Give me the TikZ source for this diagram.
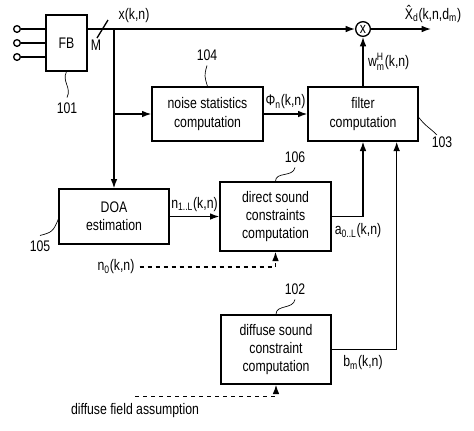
\documentclass[tikz,border=0pt]{standalone}
\usepackage{amsmath}
\usepackage{fontspec}
\setmainfont{Liberation Sans}[FakeStretch=0.8]
\usetikzlibrary{arrows.meta}

\begin{document}
\begin{tikzpicture}[x=0.75pt,y=-0.75pt,line width=1pt,>={Latex[length=7pt,width=5pt]},
   font=\fontsize{11.5}{13.75}\selectfont]
   \useasboundingbox (0,0) rectangle (474,430);
   \tikzstyle{block}=[draw, align=center, inner sep=1pt, minimum width=82.5pt, minimum height=40.5pt]
   \tikzstyle{callout}=[line width=0.5pt]
   \tikzstyle{port}=[circle, draw, fill=white, inner sep=0pt, minimum size=5pt]
   % blocks
   \node[draw, minimum width=30.75pt, minimum height=42pt] (fb) at (66.5,43) {FB};
   \node[block, minimum width=83.25pt] (noise) at (207.5,114) {noise statistics\\computation};
   \node[block] (filter) at (363,114) {filter\\computation};
   \node[block, minimum height=41.25pt] (doa) at (114,216.5) {DOA\\estimation};
   \node[block, minimum width=83.25pt, minimum height=51.75pt] (direct) at (275.5,216.5) {direct sound\\constraints\\computation};
   \node[block, minimum height=51.75pt] (diffuse) at (276,349.5) {diffuse sound\\constraint\\computation};
   \node[circle, draw, inner sep=0pt, minimum size=11pt] (mult) at (363,29) {x};
   % microphone inputs
   \foreach \i/\y in {1/29,2/43,3/57} {
       \node[port] (in\i) at (17,\y) {};
       \draw (in\i) -- (fb.west |- in\i);
   }
   % signal path
   \coordinate (split) at (114,29);
   \coordinate (out) at (431,29);
   \draw[->] (fb.east |- split) -- (split) -- (mult);
   \draw (97,38) -- (108,20);
   \node at (96,45) {M};
   \node at (134,16) {x(k,n)};
   \draw[->] (mult) -- (out);
   \node at (433,14) {\^{X}\textsubscript{d}(k,n,d\textsubscript{m})};
   \draw[->] (split) |- (noise);
   \draw[->] (split) -- (doa);
   \draw[->] (noise) -- node[above] {Φ\textsubscript{n}(k,n)} (filter);
   \draw[->] (filter) -- node[right] {$\text{w}^{\text{H}}_{\text{m}}$(k,n)} (mult);
   \draw[->] (doa) -- node[above] {n\textsubscript{1..L}(k,n)} (direct);
   \draw[->] (direct.east) -| (filter.south);
   \node at (358,231) {a\textsubscript{0..L}(k,n)};
   \draw[->] (diffuse.east) -| ([xshift=-16.5pt]filter.south east);
   \node at (363,363) {b\textsubscript{m}(k,n)};
   \node (n0) at (116,267) {n\textsubscript{0}(k,n)};
   \draw[->, dashed] (n0.east) -| (direct.south);
   \node (dfa) at (135,411) {diffuse field assumption};
   \draw[->, dashed] ([yshift=1.5pt]dfa.north) -| (diffuse.south);
   % reference numerals
   \node (l101) at (67,108) {101};
   \node (l104) at (207,55) {104};
   \node (l103) at (442,142) {103};
   \node (l105) at (40,246) {105};
   \node (l106) at (295,157) {106};
   \node (l102) at (295,289) {102};
   \draw[callout] (fb.south) .. controls +(-5,10) and +(5,-10) .. (l101.north);
   \draw[callout] (noise.north) .. controls +(-3,-10) and +(-3,10) .. (l104.south);
   \draw[callout] ([yshift=-2.5pt]filter.east) .. controls +(8,10) and +(-8,-8) .. (437,135);
   \draw[callout] ([yshift=-2pt]doa.west) .. controls +(-5,12) and +(12,-3) .. (l105.north);
   \draw[callout] (direct.north) .. controls +(0,-10) and +(-2,10) .. (l106.south);
   \draw[callout] (diffuse.north) .. controls +(0,-10) and +(-2,10) .. (l102.south);
\end{tikzpicture}
\end{document}
